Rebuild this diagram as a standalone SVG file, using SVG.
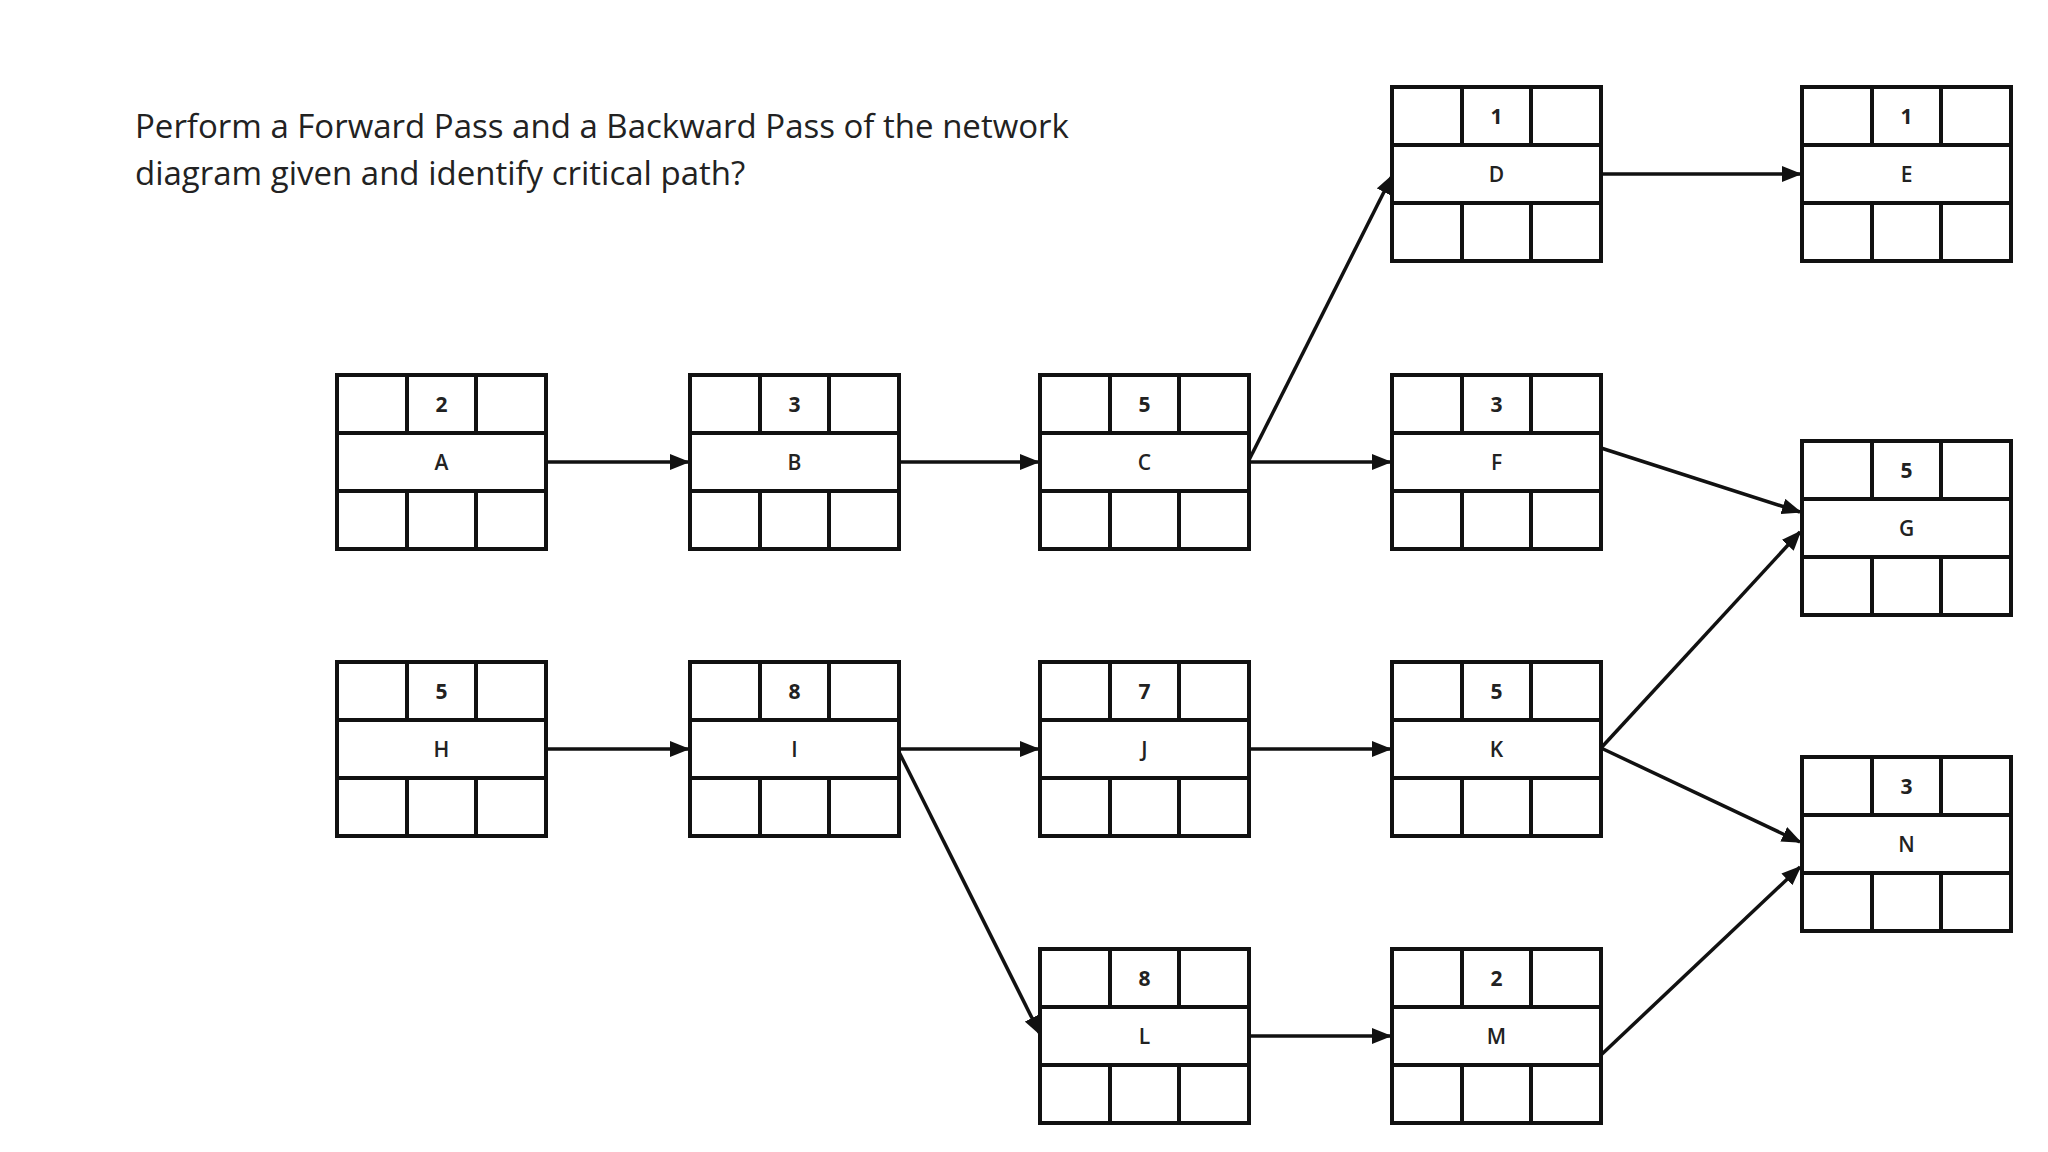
<svg xmlns="http://www.w3.org/2000/svg" width="2048" height="1152" viewBox="0 0 2048 1152">
<style>
.b{fill:#fff;stroke:#111;stroke-width:4}
.l{stroke:#111;stroke-width:4}
.t{font-family:"Open Sans","Liberation Sans",sans-serif;font-size:21px;text-anchor:middle;fill:#222;font-weight:600}
.d{font-weight:bold}
.c{stroke:#111;stroke-width:3.5;fill:none;marker-end:url(#a)}
.title{font-family:"Open Sans","Liberation Sans",sans-serif;font-size:33px;fill:#222}
</style>
<defs>
<marker id="a" viewBox="0 0 10 10" refX="9" refY="5" markerWidth="20" markerHeight="16" markerUnits="userSpaceOnUse" orient="auto" preserveAspectRatio="none"><path d="M0,0L10,5L0,10z" fill="#111"/></marker>
<g id="box">
<rect class="b" x="0" y="0" width="209" height="174"/>
<line class="l" x1="0" y1="58" x2="209" y2="58"/>
<line class="l" x1="0" y1="116" x2="209" y2="116"/>
<line class="l" x1="70" y1="0" x2="70" y2="58"/>
<line class="l" x1="139" y1="0" x2="139" y2="58"/>
<line class="l" x1="70" y1="116" x2="70" y2="174"/>
<line class="l" x1="139" y1="116" x2="139" y2="174"/>
</g>
</defs>
<rect width="2048" height="1152" fill="#fff"/>
<text class="title" x="135" y="138">Perform a Forward Pass and a Backward Pass of the network</text>
<text class="title" x="135" y="185">diagram given and identify critical path?</text>
<g id="connectors">
<line class="c" x1="546" y1="462" x2="688" y2="462"/>
<line class="c" x1="899" y1="462" x2="1038" y2="462"/>
<line class="c" x1="1249" y1="462" x2="1390" y2="462"/>
<line class="c" x1="1249" y1="460" x2="1392" y2="176"/>
<line class="c" x1="1601" y1="174" x2="1800" y2="174"/>
<line class="c" x1="1601" y1="448" x2="1800" y2="512"/>
<line class="c" x1="546" y1="749" x2="688" y2="749"/>
<line class="c" x1="899" y1="749" x2="1038" y2="749"/>
<line class="c" x1="1249" y1="749" x2="1390" y2="749"/>
<line class="c" x1="899" y1="752" x2="1040" y2="1034"/>
<line class="c" x1="1601" y1="748" x2="1800" y2="532"/>
<line class="c" x1="1601" y1="748" x2="1800" y2="842"/>
<line class="c" x1="1249" y1="1036" x2="1390" y2="1036"/>
<line class="c" x1="1601" y1="1055" x2="1800" y2="867"/>
</g>
<g id="A" transform="translate(337,375)"><use href="#box"/><text class="t d" x="104.5" y="37">2</text><text class="t" x="104.5" y="95">A</text></g>
<g id="B" transform="translate(690,375)"><use href="#box"/><text class="t d" x="104.5" y="37">3</text><text class="t" x="104.5" y="95">B</text></g>
<g id="C" transform="translate(1040,375)"><use href="#box"/><text class="t d" x="104.5" y="37">5</text><text class="t" x="104.5" y="95">C</text></g>
<g id="F" transform="translate(1392,375)"><use href="#box"/><text class="t d" x="104.5" y="37">3</text><text class="t" x="104.5" y="95">F</text></g>
<g id="D" transform="translate(1392,87)"><use href="#box"/><text class="t d" x="104.5" y="37">1</text><text class="t" x="104.5" y="95">D</text></g>
<g id="E" transform="translate(1802,87)"><use href="#box"/><text class="t d" x="104.5" y="37">1</text><text class="t" x="104.5" y="95">E</text></g>
<g id="G" transform="translate(1802,441)"><use href="#box"/><text class="t d" x="104.5" y="37">5</text><text class="t" x="104.5" y="95">G</text></g>
<g id="H" transform="translate(337,662)"><use href="#box"/><text class="t d" x="104.5" y="37">5</text><text class="t" x="104.5" y="95">H</text></g>
<g id="I" transform="translate(690,662)"><use href="#box"/><text class="t d" x="104.5" y="37">8</text><text class="t" x="104.5" y="95">I</text></g>
<g id="J" transform="translate(1040,662)"><use href="#box"/><text class="t d" x="104.5" y="37">7</text><text class="t" x="104.5" y="95">J</text></g>
<g id="K" transform="translate(1392,662)"><use href="#box"/><text class="t d" x="104.5" y="37">5</text><text class="t" x="104.5" y="95">K</text></g>
<g id="N" transform="translate(1802,757)"><use href="#box"/><text class="t d" x="104.5" y="37">3</text><text class="t" x="104.5" y="95">N</text></g>
<g id="L" transform="translate(1040,949)"><use href="#box"/><text class="t d" x="104.5" y="37">8</text><text class="t" x="104.5" y="95">L</text></g>
<g id="M" transform="translate(1392,949)"><use href="#box"/><text class="t d" x="104.5" y="37">2</text><text class="t" x="104.5" y="95">M</text></g>
</svg>
